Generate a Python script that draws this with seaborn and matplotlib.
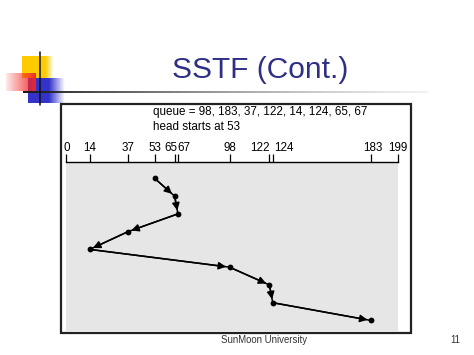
import numpy as np
import matplotlib
matplotlib.use('Agg')
import matplotlib.pyplot as plt
from matplotlib.patches import Rectangle
import seaborn as sns

# SSTF disk scheduling: order in which cylinders are serviced
queue = [98, 183, 37, 122, 14, 124, 65, 67]
head_start = 53
service_order = [53, 65, 67, 37, 14, 98, 122, 124, 183]
step = list(range(len(service_order)))

tick_values = [0, 14, 37, 53, 65, 67, 98, 122, 124, 183, 199]
end_ticks = [0, 199]
# small sideways nudges (points) so crowded labels don't overlap
label_nudge = {65: -3, 67: 4.5, 122: -7, 124: 8, 183: 1.5}

sns.set_style('white')
plt.rcParams['font.family'] = ['Liberation Sans', 'DejaVu Sans']

W, H = 474, 355
fig = plt.figure(figsize=(W / 100, H / 100), dpi=100)
fig.patch.set_facecolor('white')

# ---------------- slide decoration (pixel coordinates) ----------------
deco = fig.add_axes([0, 0, 1, 1], zorder=0)
deco.set_xlim(0, W)
deco.set_ylim(H, 0)
deco.axis('off')


def ramp(rgb, a0, a1, n=64):
    img = np.zeros((1, n, 4))
    img[..., :3] = rgb
    img[..., 3] = np.linspace(a0, a1, n)
    return img


# yellow square, fading on the right
yel = ramp((1.0, 0.8, 0.0), 1, 1)
yel[0, 48:, 3] = np.linspace(1, 0.1, 16)
deco.imshow(yel, extent=(22, 53, 78, 56), aspect='auto', interpolation='bilinear')
# blue square, fading to the right
blu = ramp((0.2, 0.2, 0.8), 1, 1)
blu[0, 36:, 3] = np.linspace(1, 0.0, 28)
deco.imshow(blu, extent=(28, 65, 103, 78), aspect='auto', interpolation='bilinear')
# red block, pale at left, strong at right
deco.imshow(ramp((0.95, 0.15, 0.15), 0.1, 0.95), extent=(6, 36, 91, 73),
            aspect='auto', interpolation='bilinear')
# horizontal rule fading to light grey
hl = np.zeros((1, 128, 4))
g = np.linspace(0.1, 0.9, 128)
hl[0, :, 0] = g
hl[0, :, 1] = g
hl[0, :, 2] = g
hl[0, :, 3] = np.linspace(1, 0.5, 128)
deco.imshow(hl, extent=(23, 428, 93, 91), aspect='auto', interpolation='bilinear')
deco.plot([40, 40], [52, 105], color='#111111', lw=1.1)

deco.text(260, 70, 'SSTF (Cont.)', fontsize=21.5, color='#2f2f85',
          ha='center', va='center')
deco.text(264, 340, 'SunMoon University', fontsize=6.9, color='#333333',
          ha='center', va='center')
deco.text(455, 340, '11', fontsize=6.9, color='#333333', ha='center', va='center')

# frame around the diagram
deco.add_patch(Rectangle((61, 104), 350, 229, facecolor='white',
                         edgecolor='#222222', lw=1.6))
deco.text(153, 112, 'queue = ' + ', '.join(str(q) for q in queue),
          fontsize=8.4, ha='left', va='center', color='black')
deco.text(153, 127, f'head starts at {head_start}', fontsize=8.4,
          ha='left', va='center', color='black')

# ---------------- the head movement chart ----------------
ax = fig.add_axes([66 / W, 1 - 332 / H, 332 / W, 170 / H], zorder=1)
ax.set_facecolor('#e6e6e6')

sns.lineplot(x=service_order, y=step, sort=False, color='black', lw=1.1,
             marker='o', markersize=4.2, markeredgewidth=0, ax=ax)

for i in range(1, len(service_order)):
    ax.annotate('', xy=(service_order[i], step[i]),
                xytext=(service_order[i - 1], step[i - 1]),
                arrowprops=dict(arrowstyle='-|>', color='black', lw=1.1,
                                mutation_scale=11, shrinkA=0, shrinkB=2.5))

ax.set_xlim(-0.3, 199.3)
ax.set_ylim(8.65, -0.92)

for s in ['left', 'right', 'bottom']:
    ax.spines[s].set_visible(False)
ax.spines['top'].set_color('black')
ax.spines['top'].set_linewidth(1)

ax.xaxis.tick_top()
ax.set_xticks(tick_values)
ax.set_xticklabels([])
ax.set_xticks(end_ticks, minor=True)
ax.tick_params(axis='x', which='major', direction='out', length=6,
               width=0.9, color='black')
ax.tick_params(axis='x', which='minor', direction='inout', length=11,
               width=0.9, color='black')
ax.set_yticks([])
ax.set_xlabel('')
ax.set_ylabel('')

for t in tick_values:
    ax.annotate(str(t), xy=(t, 1), xycoords=('data', 'axes fraction'),
                xytext=(label_nudge.get(t, 0), 5.5), textcoords='offset points',
                ha='center', va='bottom', fontsize=8.4, color='black')

fig.savefig('out.png', dpi=100)
